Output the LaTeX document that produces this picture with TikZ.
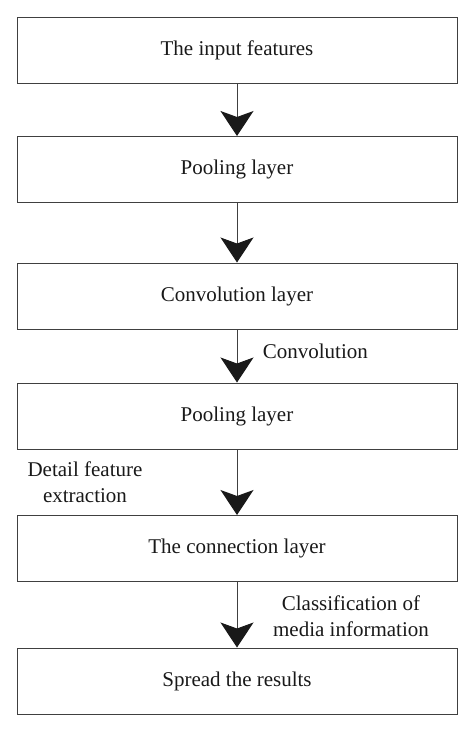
\documentclass[tikz,border=0pt]{standalone}
\usepackage{fontspec}
\setmainfont{Liberation Serif}
\usetikzlibrary{arrows.meta}

\begin{document}
\begin{tikzpicture}[x=1pt,y=-1pt,-{Stealth[length=25pt,width=33pt,inset=6pt,color=black!90]}]
    \tikzstyle{every node}=[draw,shape=rectangle,minimum width=440pt,minimum height=66pt,font=\fontsize{21}{26}\selectfont,line width=1pt,color=black!75,text=black!90];
    \tikzstyle{every path}=[draw,line width=1pt,color=black!75];
    \useasboundingbox[draw=none] (0,0) rectangle (474,732);
    \node at (237, 50)    (s0) {The input features};
    \node at (237, 169.5) (s1) {Pooling layer};
    \node at (237, 296)   (s2) {Convolution layer};
    \node at (237, 416)   (s3) {Pooling layer};
    \node at (237, 548.5) (s4) {The connection layer};
    \node at (237, 681)   (s5) {Spread the results};

\node[draw=none,minimum width=0pt,minimum height=0pt,anchor=west] at (259,351) (l0) {Convolution};
\node[draw=none,minimum width=0pt,minimum height=0pt,align=center] at (85,482) (l1) {Detail feature\\extraction};
\node[draw=none,minimum width=0pt,minimum height=0pt,align=center] at (351,616) (l2) {Classification of\\media information};

    \draw (s0) to (s1);
    \draw (s1) to (s2);
    \draw (s2) to (s3);
    \draw (s3) to (s4);
    \draw (s4) to (s5);
\end{tikzpicture}
\end{document}
